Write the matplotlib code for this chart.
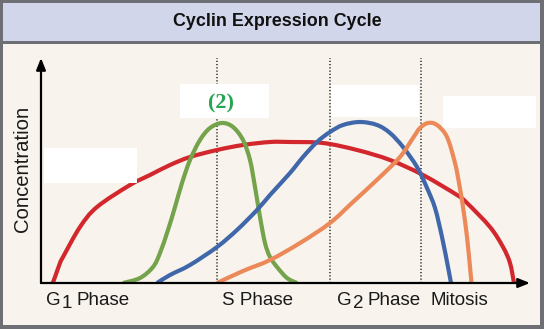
import matplotlib
matplotlib.use("Agg")
import matplotlib.pyplot as plt
import numpy as np
from matplotlib.patches import Rectangle, PathPatch
from matplotlib.path import Path

plt.rcParams['font.family'] = ['Liberation Sans', 'DejaVu Sans']

# cyclin levels over one cell cycle (time, concentration), arbitrary units
cyclin_d_t = [11.7, 14, 19, 22, 39, 56, 89, 109, 129, 149, 176, 202, 229, 249,
              282, 316, 349, 382, 416, 426, 449, 462, 469, 473]
cyclin_d_c = [0, 6, 20, 26, 56, 76, 98, 108, 118, 126, 133, 138, 141, 141,
              140, 133, 123, 108, 88, 80, 56, 36, 20, 0]

cyclin_e_t = [82, 99, 112, 119, 127, 134, 141, 149, 159, 169, 181, 192, 202,
              209, 214, 219, 224, 229, 236, 246, 256]
cyclin_e_c = [0, 5, 16, 30, 53, 76, 100, 123, 143, 155, 160, 156, 143,
              123, 96, 66, 40, 26, 16, 5, 0]

cyclin_a_t = [116, 129, 149, 176, 196, 216, 229, 249, 262, 276, 289, 302, 319,
              336, 349, 362, 376, 386, 394, 401, 407, 410]
cyclin_a_c = [0, 8, 18, 36, 53, 73, 88, 110, 126, 141, 151, 158, 161,
              158, 150, 136, 116, 95, 75, 46, 16, 0]

cyclin_b_t = [176, 202, 229, 259, 289, 312, 339, 359, 372, 379, 387, 396,
              406, 414, 418, 422, 426, 429, 430.5]
cyclin_b_c = [0, 12, 23, 40, 60, 81, 106, 126, 145, 155, 160, 158,
              146, 120, 100, 76, 46, 16, 0]

phase_bounds = [176, 289, 380]
phase_names = ['G', 'S Phase', 'G', 'Mitosis']
phase_subs = ['1', None, '2', None]
phase_x = [4.7, 181, 296, 389]

W, H = 544, 329
fig = plt.figure(figsize=(W / 100, H / 100), dpi=100, facecolor='#6e6f74')


def fig_box(x0, y0, x1, y1, color):
    # rectangle given in pixels from the top-left corner
    fig.patches.append(Rectangle((x0 / W, 1 - y1 / H), (x1 - x0) / W, (y1 - y0) / H,
                                 transform=fig.transFigure, facecolor=color,
                                 edgecolor='none', zorder=-5))


def smooth_line(ax, xs, ys, color, lw=3.0):
    # catmull-rom through the points, drawn as cubic bezier segments
    p = np.column_stack([xs, ys]).astype(float)
    p = np.vstack([p[0], p, p[-1]])
    verts = [p[1]]
    codes = [Path.MOVETO]
    for i in range(1, len(p) - 2):
        c1 = p[i] + (p[i + 1] - p[i - 1]) / 6
        c2 = p[i + 1] - (p[i + 2] - p[i]) / 6
        verts += [c1, c2, p[i + 1]]
        codes += [Path.CURVE4] * 3
    ax.add_patch(PathPatch(Path(verts, codes), facecolor='none', edgecolor=color,
                           lw=lw, capstyle='butt', zorder=3))


fig_box(3, 3, 540, 40.5, '#d2d6ea')
fig_box(3, 44, 540, 325, '#f8f4ed')

fig.text(277 / W, 1 - 21.5 / H, 'Cyclin Expression Cycle', ha='center', va='center',
         fontsize=12.9, fontweight='bold', color='#111111')
fig.text(23 / W, 1 - 168.5 / H, 'Concentration', rotation=90, ha='center', va='center',
         fontsize=14.6, color='#1a1a1a')

ax = fig.add_axes([41 / W, 1 - 283 / H, 489 / W, 225 / H])
ax.set_xlim(0, 489)
ax.set_ylim(0, 225)
ax.patch.set_alpha(0)
for s in ax.spines.values():
    s.set_visible(False)
ax.set_xticks([])
ax.set_yticks([])

for xb in phase_bounds:
    ax.plot([xb, xb], [0, 225], color='#4a4a4a', lw=1.3, ls=(0, (0.7, 1.1)), zorder=1)

smooth_line(ax, cyclin_d_t, cyclin_d_c, '#d2282d')
smooth_line(ax, cyclin_e_t, cyclin_e_c, '#74a34b')
smooth_line(ax, cyclin_a_t, cyclin_a_c, '#4067aa')
smooth_line(ax, cyclin_b_t, cyclin_b_c, '#ec8959')

# axes with arrow heads
arrow = dict(arrowstyle='-|>,head_length=0.7,head_width=0.28', lw=1.6, color='black',
             shrinkA=0, shrinkB=0)
ax.annotate('', xy=(489, 0), xytext=(0, 0), arrowprops=arrow, annotation_clip=False, zorder=4)
ax.annotate('', xy=(0, 225), xytext=(0, 0), arrowprops=arrow, annotation_clip=False, zorder=4)

# blank label boxes
for x0, y0, w, h in [(3, 100, 93, 35), (139, 165, 89, 34), (290, 166, 88, 32), (402, 155, 93, 32)]:
    ax.add_patch(Rectangle((x0, y0), w, h, facecolor='white', edgecolor='none',
                           zorder=5, clip_on=False))

ax.text(180, 180, '(2)', ha='center', va='center', fontsize=16, fontweight='bold',
        family='Liberation Serif', color='#27a552', zorder=6)

for name, sub, x in zip(phase_names, phase_subs, phase_x):
    t = ax.text(x, -9, name, ha='left', va='top', fontsize=13.5, color='#1a1a1a',
                clip_on=False)
    if sub:
        s = ax.annotate(sub, xy=(1, 0), xycoords=t, xytext=(0.8, -2.2),
                        textcoords='offset points', ha='left', va='bottom',
                        fontsize=13.5, color='#1a1a1a')
        ax.annotate('Phase', xy=(1, 0), xycoords=s, xytext=(3.4, 2.2),
                    textcoords='offset points', ha='left', va='bottom',
                    fontsize=13.5, color='#1a1a1a')

fig.savefig('out.png', dpi=100, facecolor=fig.get_facecolor())
